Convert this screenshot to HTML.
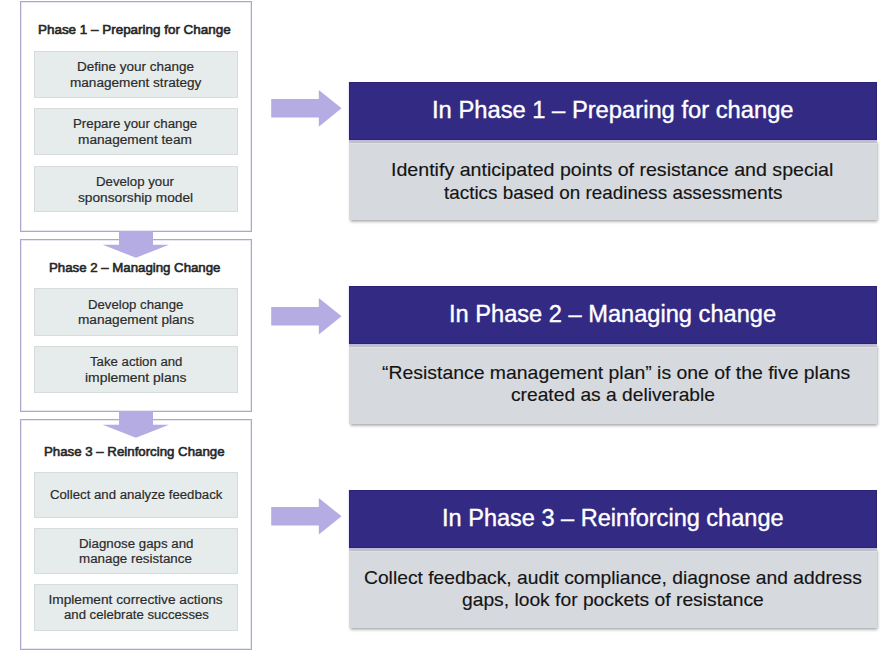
<!DOCTYPE html>
<html>
<head>
<meta charset="utf-8">
<style>
html,body{margin:0;padding:0;background:#ffffff;}
body{width:880px;height:650px;position:relative;overflow:hidden;font-family:"Liberation Sans",sans-serif;}
.p{position:absolute;left:20px;width:230px;border:1px solid #aca8cc;background:#fff;box-shadow:inset 0 0 0 1px rgba(176,172,210,0.3);}
.g{position:absolute;left:34px;width:202px;border:1px solid #d6dbdb;background:#e6ecec;}
.h{position:absolute;left:349px;width:528px;height:58px;background:#332a84;z-index:2;box-shadow:inset 0 0 0 1px rgba(20,15,70,0.25),-1px 0 1px rgba(200,195,240,0.35);}
.b{position:absolute;left:349px;width:528px;height:80px;background:#d6d9de;z-index:1;
  box-shadow:0.5px 1.5px 3px rgba(0,0,0,0.38);}
.b:before{content:"";position:absolute;left:0;right:0;top:0;height:4px;
  background:linear-gradient(to bottom,#bdb9d8 0,#bdb9d8 1.5px,#bfc0c8 1.5px,#bfc0c8 3px,#dfe0e4 3px,#dfe0e4 4px);}
.t{position:absolute;white-space:nowrap;transform-origin:0 0;font-family:"Liberation Sans",sans-serif;z-index:5;}
svg{position:absolute;left:0;top:0;z-index:3;}
</style>
</head>
<body>
<div class="p" style="top:1px;height:229px;"></div>
<div class="p" style="top:239px;height:171px;"></div>
<div class="p" style="top:419px;height:229px;"></div>

<div class="g" style="top:51px;height:45px;"></div>
<div class="g" style="top:108px;height:45px;"></div>
<div class="g" style="top:166px;height:44px;"></div>
<div class="g" style="top:288px;height:46px;"></div>
<div class="g" style="top:346px;height:45px;"></div>
<div class="g" style="top:472px;height:44px;"></div>
<div class="g" style="top:528px;height:44px;"></div>
<div class="g" style="top:584px;height:45px;"></div>

<div class="h" style="top:82px;"></div>
<div class="b" style="top:140px;"></div>
<div class="h" style="top:286px;"></div>
<div class="b" style="top:344px;"></div>
<div class="h" style="top:490px;"></div>
<div class="b" style="top:548px;"></div>

<svg width="880" height="650" viewBox="0 0 880 650">
<g fill="#b4ace3">
<polygon points="119,231 153,231 153,244.8 169,244.8 135.9,257.7 102.7,244.8 119,244.8"/>
<polygon points="119,411 153,411 153,424.8 169,424.8 135.9,437.7 102.7,424.8 119,424.8"/>
<polygon points="271.2,99.1 318.8,99.1 318.8,90 341.5,108.3 318.8,126.7 318.8,117.5 271.2,117.5"/>
<polygon points="271.2,307.1 318.8,307.1 318.8,298 341.5,316.3 318.8,334.6 318.8,325.5 271.2,325.5"/>
<polygon points="271.2,507.1 318.8,507.1 318.8,498 341.5,516.3 318.8,534.6 318.8,525.5 271.2,525.5"/>
</g>
</svg>

<div class="t" style="left:38.48px;top:17.00px;font-size:13.2px;line-height:26.4px;font-weight:normal;color:#262626;transform:scaleX(1.0186);-webkit-text-stroke:0.6px #262626;">Phase 1 – Preparing for Change</div>
<div class="t" style="left:49.40px;top:254.80px;font-size:13.2px;line-height:26.4px;font-weight:normal;color:#262626;transform:scaleX(1.0035);-webkit-text-stroke:0.6px #262626;">Phase 2 – Managing Change</div>
<div class="t" style="left:44.39px;top:439.20px;font-size:13.2px;line-height:26.4px;font-weight:normal;color:#262626;transform:scaleX(1.0050);-webkit-text-stroke:0.6px #262626;">Phase 3 – Reinforcing Change</div>
<div class="t" style="left:77.41px;top:53.20px;font-size:13.7px;line-height:27.4px;font-weight:normal;color:#2b2b2b;transform:scaleX(0.9863);-webkit-text-stroke:0.2px #2b2b2b;">Define your change</div>
<div class="t" style="left:70.11px;top:68.50px;font-size:13.7px;line-height:27.4px;font-weight:normal;color:#2b2b2b;transform:scaleX(0.9924);-webkit-text-stroke:0.2px #2b2b2b;">management strategy</div>
<div class="t" style="left:73.03px;top:110.20px;font-size:13.7px;line-height:27.4px;font-weight:normal;color:#2b2b2b;transform:scaleX(0.9717);-webkit-text-stroke:0.2px #2b2b2b;">Prepare your change</div>
<div class="t" style="left:78.30px;top:125.50px;font-size:13.7px;line-height:27.4px;font-weight:normal;color:#2b2b2b;transform:scaleX(0.9982);-webkit-text-stroke:0.2px #2b2b2b;">management team</div>
<div class="t" style="left:96.23px;top:168.20px;font-size:13.7px;line-height:27.4px;font-weight:normal;color:#2b2b2b;transform:scaleX(0.9662);-webkit-text-stroke:0.2px #2b2b2b;">Develop your</div>
<div class="t" style="left:78.40px;top:183.50px;font-size:13.7px;line-height:27.4px;font-weight:normal;color:#2b2b2b;transform:scaleX(1.0018);-webkit-text-stroke:0.2px #2b2b2b;">sponsorship model</div>
<div class="t" style="left:87.64px;top:290.70px;font-size:13.7px;line-height:27.4px;font-weight:normal;color:#2b2b2b;transform:scaleX(0.9633);-webkit-text-stroke:0.2px #2b2b2b;">Develop change</div>
<div class="t" style="left:77.70px;top:306.00px;font-size:13.7px;line-height:27.4px;font-weight:normal;color:#2b2b2b;transform:scaleX(0.9965);-webkit-text-stroke:0.2px #2b2b2b;">management plans</div>
<div class="t" style="left:90.30px;top:348.20px;font-size:13.7px;line-height:27.4px;font-weight:normal;color:#2b2b2b;transform:scaleX(0.9642);-webkit-text-stroke:0.2px #2b2b2b;">Take action and</div>
<div class="t" style="left:85.38px;top:363.50px;font-size:13.7px;line-height:27.4px;font-weight:normal;color:#2b2b2b;transform:scaleX(1.0173);-webkit-text-stroke:0.2px #2b2b2b;">implement plans</div>
<div class="t" style="left:49.50px;top:480.75px;font-size:13.7px;line-height:27.4px;font-weight:normal;color:#2b2b2b;transform:scaleX(0.9637);-webkit-text-stroke:0.2px #2b2b2b;">Collect and analyze feedback</div>
<div class="t" style="left:78.53px;top:530.00px;font-size:13.7px;line-height:27.4px;font-weight:normal;color:#2b2b2b;transform:scaleX(0.9698);-webkit-text-stroke:0.2px #2b2b2b;">Diagnose gaps and</div>
<div class="t" style="left:79.02px;top:545.00px;font-size:13.7px;line-height:27.4px;font-weight:normal;color:#2b2b2b;transform:scaleX(0.9759);-webkit-text-stroke:0.2px #2b2b2b;">manage resistance</div>
<div class="t" style="left:48.50px;top:586.25px;font-size:13.7px;line-height:27.4px;font-weight:normal;color:#2b2b2b;transform:scaleX(1.0000);-webkit-text-stroke:0.2px #2b2b2b;">Implement corrective actions</div>
<div class="t" style="left:63.75px;top:601.25px;font-size:13.7px;line-height:27.4px;font-weight:normal;color:#2b2b2b;transform:scaleX(0.9617);-webkit-text-stroke:0.2px #2b2b2b;">and celebrate successes</div>
<div class="t" style="left:431.65px;top:85.80px;font-size:24.4px;line-height:48.8px;font-weight:normal;color:#ffffff;transform:scaleX(0.9732);-webkit-text-stroke:0.4px #ffffff;">In Phase 1 – Preparing for change</div>
<div class="t" style="left:449.16px;top:290.00px;font-size:24.4px;line-height:48.8px;font-weight:normal;color:#ffffff;transform:scaleX(0.9687);-webkit-text-stroke:0.4px #ffffff;">In Phase 2 – Managing change</div>
<div class="t" style="left:441.97px;top:493.90px;font-size:24.4px;line-height:48.8px;font-weight:normal;color:#ffffff;transform:scaleX(0.9652);-webkit-text-stroke:0.4px #ffffff;">In Phase 3 – Reinforcing change</div>
<div class="t" style="left:391.38px;top:150.60px;font-size:18.5px;line-height:37.0px;font-weight:normal;color:#141414;transform:scaleX(1.0595);-webkit-text-stroke:0.15px #141414;">Identify anticipated points of resistance and special</div>
<div class="t" style="left:444.00px;top:173.90px;font-size:18.5px;line-height:37.0px;font-weight:normal;color:#141414;transform:scaleX(1.0190);-webkit-text-stroke:0.15px #141414;">tactics based on readiness assessments</div>
<div class="t" style="left:381.90px;top:353.60px;font-size:18.5px;line-height:37.0px;font-weight:normal;color:#141414;transform:scaleX(1.0491);-webkit-text-stroke:0.15px #141414;">“Resistance management plan” is one of the five plans</div>
<div class="t" style="left:510.76px;top:375.90px;font-size:18.5px;line-height:37.0px;font-weight:normal;color:#141414;transform:scaleX(1.0385);-webkit-text-stroke:0.15px #141414;">created as a deliverable</div>
<div class="t" style="left:363.96px;top:558.90px;font-size:18.5px;line-height:37.0px;font-weight:normal;color:#141414;transform:scaleX(1.0409);-webkit-text-stroke:0.15px #141414;">Collect feedback, audit compliance, diagnose and address</div>
<div class="t" style="left:461.56px;top:581.10px;font-size:18.5px;line-height:37.0px;font-weight:normal;color:#141414;transform:scaleX(1.0405);-webkit-text-stroke:0.15px #141414;">gaps, look for pockets of resistance</div>
</body>
</html>
